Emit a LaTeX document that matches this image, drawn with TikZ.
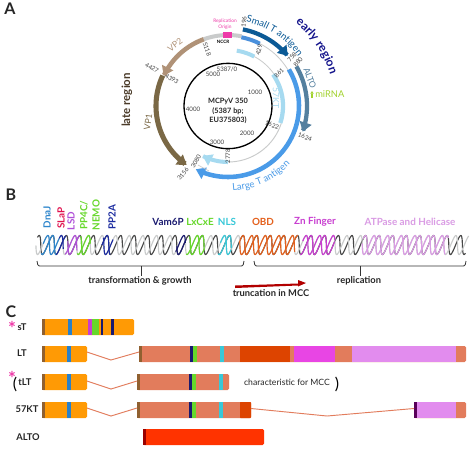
\documentclass[tikz,border=0pt]{standalone}
\usepackage{fontspec}
\setmainfont{Lato}
\usetikzlibrary{arrows.meta,decorations.text}
\definecolor{geneOrange}{HTML}{FF9A05}
\definecolor{geneSalmon}{HTML}{E27C5C}
\definecolor{geneRust}{HTML}{DD4400}
\definecolor{geneMagenta}{HTML}{E845E4}
\definecolor{genePink}{HTML}{E28CEE}
\definecolor{geneBlue}{HTML}{2A80C8}
\definecolor{geneNavy}{HTML}{1A1A70}
\definecolor{geneGreen}{HTML}{66D82A}
\definecolor{geneCyan}{HTML}{38C8D8}
\definecolor{geneRed}{HTML}{FF3300}
\definecolor{ringGray}{HTML}{C9CBCB}
\definecolor{smallT}{HTML}{0B5A96}
\definecolor{smallTb}{HTML}{4A90DC}
\definecolor{largeT}{HTML}{4A9BE8}
\definecolor{altoBlue}{HTML}{54809F}
\definecolor{kt}{HTML}{A6DAF0}
\definecolor{vpTwo}{HTML}{B09277}
\definecolor{vpOne}{HTML}{7A6845}
\definecolor{lateText}{HTML}{4A3A28}
\definecolor{earlyText}{HTML}{14148C}
\definecolor{mirna}{HTML}{A2D22E}
\definecolor{oriPink}{HTML}{EE3AA8}
\definecolor{dnaJ}{HTML}{2E86CC}
\definecolor{slap}{HTML}{E0124E}
\definecolor{lsd}{HTML}{B050D8}
\definecolor{ppTwo}{HTML}{1C2CA0}
\definecolor{obd}{HTML}{E4601C}
\definecolor{zn}{HTML}{C83ED0}
\definecolor{atp}{HTML}{DA9CE4}
\newcommand\ringarc[4]{\draw[#1] plot[domain=#2:#3,samples=50] ({228+#4*cos(\x)},{106+#4*sin(\x)});}
\newcommand\ringtext[5]{\path[decorate,decoration={text along path,text align=center,text={|#1|#5}}] plot[domain=#2:#3,samples=50] ({228+#4*cos(\x)},{106+#4*sin(\x)});}
\newcommand\strand[4]{\draw[#1,line width=0.85pt,line join=round] plot[domain=#2:#3,samples=#4] ({\x-1.8*sin(26.47*\x)},{245+9.5*sin(26.47*\x)});}
\newcommand\strandb[4]{\draw[#1,line width=0.85pt,line join=round] plot[domain=#2:#3,samples=#4] ({\x-1.8*sin(26.47*\x+130)},{245+9.5*sin(26.47*\x+130)});}
\newcommand\helixpart[3]{\strand{#1}{#2}{#3}{220}\strandb{#1}{#2}{#3}{220}}
\newcommand\genebar[5]{\fill[#5,rounded corners=1pt] (#1,#3) rectangle (#2,#4);}
\newcommand\barside[4]{\fill[#4] (#1,#2) rectangle ({#1+2.5},#3);}
\newcommand\ktfont{\fontsize{7.2pt}{8pt}\selectfont\color{smallT}}
\newcommand\ltfont{\fontsize{7.2pt}{8pt}\selectfont\color{largeT}}
\newcommand\erfont{\fontsize{9pt}{10pt}\selectfont\bfseries\color{earlyText}}
\tikzset{
  x=0.75pt,y=-0.75pt,
  ticklabel/.style={font=\fontsize{4.6pt}{5pt}\selectfont,text=black!75,inner sep=0pt},
  arrowed/.style={-{Triangle[length=7pt,width=9pt]}},
  domainlabel/.style={font=\fontsize{7.4pt}{8pt}\selectfont\bfseries,inner sep=0pt},
  grouplabel/.style={font=\fontsize{7pt}{8pt}\selectfont\bfseries,text=black!85,inner sep=0pt},
  rowlabel/.style={font=\fontsize{7pt}{8pt}\selectfont\bfseries,text=black!85,inner sep=0pt},
  panelletter/.style={font=\fontsize{12pt}{13pt}\selectfont\bfseries,text=black!85,inner sep=0pt},
  splice/.style={draw=geneSalmon,line width=0.7pt},
  bracket/.style={draw=black!80,line width=0.6pt,rounded corners=1pt},
  asterisk/.style={font=\fontsize{14pt}{15pt}\selectfont\bfseries,text=oriPink,inner sep=0pt},
}
\begin{document}
\begin{tikzpicture}
\useasboundingbox (0,0) rectangle (474,451);
\fill[white] (0,0) rectangle (474,451);

% Panel A: genome map
\node[panelletter] (panelA) at (10,9) {A};
\draw[black,line width=1pt] (228,106) circle [x radius=33pt,y radius=32pt];
\node[align=center,inner sep=0pt,font=\fontsize{5.5pt}{7pt}\selectfont\bfseries,text=black!85] (title) at (228,111) {MCPyV 350\\(5387 bp;\\EU375803)};

\ringarc{ringGray,line width=0.6pt}{-63}{-30}{70}
\ringarc{ringGray,line width=3pt}{-110}{-79}{71}
\ringarc{ringGray,line width=0.6pt}{-62}{-35}{56}
\ringarc{ringGray,line width=0.7pt}{18}{90}{56}
\ringarc{smallTb,line width=3pt}{-79}{-63}{70}
\ringarc{kt,line width=3pt}{-81}{-62}{56}
\ringarc{kt,line width=3.2pt}{-35}{18}{55}
\ringarc{kt,line width=3pt,arrowed}{90}{117}{56}
\ringarc{smallT,line width=3.2pt,arrowed}{-79}{-40}{78}
\ringarc{largeT,line width=3.4pt,arrowed}{-31}{117}{71}
\ringarc{altoBlue,line width=3.2pt,arrowed}{-30}{19}{79}
\ringarc{vpTwo,line width=3.4pt,arrowed}{-110}{-155}{71}
\ringarc{vpOne,line width=3.8pt,arrowed}{-155}{-235}{72}
\draw[ringGray,line width=0.5pt] (198,165) -- (209,171);

\fill[oriPink] (223,32) rectangle (232,38);
\node[font=\fontsize{3.6pt}{4.4pt}\selectfont,align=center,text=oriPink,inner sep=0pt] (ori) at (225,24) {Replication\\Origin};
\node[font=\fontsize{3.4pt}{4pt}\selectfont\bfseries,inner sep=0pt] (nccr) at (223,42) {NCCR};

\ringtext{\ktfont}{-85}{-28}{86}{Small T antigen}
\ringtext{\ltfont}{105}{25}{85}{Large T antigen}
\ringtext{\erfont}{-64}{-4}{107}{early region}
\node[rotate=90,font=\fontsize{8.6pt}{9pt}\selectfont\bfseries,text=lateText,inner sep=0pt] (late) at (127,100) {late region};
\node[rotate=38,font=\fontsize{6.5pt}{7pt}\selectfont,text=vpTwo,inner sep=0pt] (vp2) at (175,45) {VP2};
\node[rotate=82,font=\fontsize{6.5pt}{7pt}\selectfont,text=vpOne,inner sep=0pt] (vp1) at (148,122) {VP1};
\node[rotate=-70,font=\fontsize{6.5pt}{7pt}\selectfont,text=altoBlue,inner sep=0pt] (alto) at (310,78) {ALTO};
\node[rotate=-90,font=\fontsize{6.5pt}{7pt}\selectfont,text=kt,inner sep=0pt] (ktlabel) at (276,98) {57KT};
\node[font=\fontsize{7pt}{8pt}\selectfont,text=mirna,anchor=west,inner sep=0pt] (mir) at (315,94) {miRNA};
\coordinate (mirTail) at (312,98);
\coordinate (mirHead) at (312,91);
\draw[mirna,line width=0.8pt,-{Triangle[length=2pt,width=2.5pt]}] (mirTail) -- (mirHead);

\node[ticklabel] (t0) at (227,69) {5387/0};
\node[ticklabel] (t1) at (213,74) {5000};
\node[ticklabel] (t2) at (255,92) {1000};
\node[ticklabel] (t3) at (193,109) {4000};
\node[ticklabel] (t4) at (247,133) {2000};
\node[ticklabel] (t5) at (217,142) {3000};
\node[ticklabel,rotate=-30] (t6) at (152,68) {4427};
\node[ticklabel,rotate=-30] (t7) at (172,79) {4393};
\node[ticklabel,rotate=-70] (t8) at (207,49) {5118};
\node[ticklabel,rotate=85] (t9) at (244,22) {196};
\node[ticklabel,rotate=75] (t10) at (259,50) {429};
\node[ticklabel,rotate=45] (t11) at (279,73) {861};
\node[ticklabel,rotate=50] (t12) at (292,57) {758};
\node[ticklabel,rotate=50] (t13) at (298,62) {880};
\node[ticklabel,rotate=-20] (t14) at (305,137) {1624};
\node[ticklabel,rotate=-20] (t15) at (272,125) {1622};
\node[ticklabel,rotate=90] (t16) at (228,156) {2778};
\node[ticklabel,rotate=60] (t17) at (196,161) {3080};
\node[ticklabel,rotate=50] (t18) at (183,174) {3156};

% Panel B: large T domains on a helix
\node[panelletter] (panelB) at (11,195) {B};
\strand{black!72}{36}{467}{1600}
\strandb{ringGray}{36}{467}{1600}
\helixpart{dnaJ}{43}{58}
\helixpart{ppTwo}{58}{64}
\helixpart{lsd}{67}{78}
\helixpart{geneGreen}{79}{90}
\helixpart{ppTwo}{102}{112}
\helixpart{geneNavy}{177}{185}
\helixpart{geneGreen}{188}{205}
\helixpart{geneCyan}{220}{232}
\helixpart{obd}{239}{296}
\helixpart{zn}{302}{334}
\helixpart{atp}{362}{447}

\node[domainlabel,rotate=90,text=dnaJ] (dj) at (47,217) {DnaJ};
\node[domainlabel,rotate=90,text=slap] (sl) at (61,218) {SLaP};
\node[domainlabel,rotate=90,text=lsd] (ls) at (71,221) {LSD};
\node[domainlabel,rotate=90,text=geneGreen] (pp) at (84,215) {PP4C/};
\node[domainlabel,rotate=90,text=geneGreen] (ne) at (96,215) {NEMO};
\node[domainlabel,rotate=90,text=ppTwo] (p2) at (112,217) {PP2A};
\node[domainlabel,text=geneNavy] (va) at (168,222) {Vam6P};
\node[domainlabel,text=geneGreen] (lx) at (200,222) {LxCxE};
\node[domainlabel,text=geneCyan] (nl) at (227,222) {NLS};
\node[domainlabel,text=obd] (ob) at (263,222) {OBD};
\node[domainlabel,text=zn] (zf) at (315,222) {Zn Finger};
\node[domainlabel,text=atp] (at) at (410,222) {ATPase and Helicase};

\node[grouplabel] (growth) at (140,281) {transformation \& growth};
\node[grouplabel] (repl) at (359,281) {replication};
\node[grouplabel] (trunc) at (271,293.5) {truncation in MCC};
\draw[bracket] (37,261) -- (38,266) -- (243,266) -- (244,261);
\draw[bracket] (254,261) -- (255,266) -- (465,266) -- (466,261);
\coordinate (braceLeft) at (141,266);
\coordinate (braceRight) at (360,266);
\draw[bracket] (braceLeft) -- (growth.north -| braceLeft);
\draw[bracket] (braceRight) -- (repl.north -| braceRight);
\fill[red!70!black] (235,285.5) -- (298,283.5) -- (298,280) -- (306,283) -- (298,286.5) -- (298,285.5) -- (235,288) -- cycle;

% Panel C: transcripts
\node[panelletter] (panelC) at (11,312) {C};
\node[asterisk] (s1) at (12,328) {*};
\node[rowlabel] (rowsT) at (22,327) {sT};
\node[rowlabel] (rowLT) at (22,353) {LT};
\node[asterisk] (s2) at (12,378) {*};
\node[font=\fontsize{12pt}{13pt}\selectfont,inner sep=0pt] (openp) at (15,384) {(};
\node[rowlabel] (rowtLT) at (25,382) {tLT};
\node[rowlabel] (rowKT) at (27,409) {57KT};
\node[rowlabel] (rowALTO) at (28,437) {ALTO};
\node[font=\fontsize{6.5pt}{7pt}\selectfont,text=black!85,inner sep=0pt] (mcc) at (287,382) {characteristic for MCC};
\node[font=\fontsize{12pt}{13pt}\selectfont,inner sep=0pt] (closep) at (337,384) {)};

% sT
\genebar{42}{134}{319}{335}{geneOrange}
\barside{42}{319}{335}{brown!75!black}
\fill[geneBlue] (68,319) rectangle (72,335);
\fill[zn] (88,319) rectangle (92,335);
\fill[geneGreen] (92,319) rectangle (99,335);
\fill[geneNavy] (101,319) rectangle (103,335);
\fill[geneNavy] (111,319) rectangle (114,335);

% LT
\genebar{42}{87}{346}{362}{geneOrange}
\barside{42}{346}{362}{brown!75!black}
\fill[geneBlue] (67,346) rectangle (71,362);
\genebar{139}{466}{346}{362}{geneSalmon}
\barside{139}{346}{362}{brown!75!black}
\fill[geneNavy] (190,346) rectangle (193,362);
\fill[geneGreen] (193,346) rectangle (197,362);
\fill[geneCyan] (220,346) rectangle (224,362);
\fill[geneRust] (240,346) rectangle (290,362);
\fill[geneMagenta] (294,346) rectangle (335,362);
\fill[genePink] (352,346) rectangle (456,362);
\coordinate (ltA) at (87,352);
\coordinate (ltM) at (111,360);
\coordinate (ltB) at (139,352);
\draw[splice] (ltA) -- (ltM) -- (ltB);

% tLT
\genebar{42}{87}{374}{390}{geneOrange}
\barside{42}{374}{390}{brown!75!black}
\fill[geneBlue] (67,374) rectangle (71,390);
\genebar{137}{229}{374}{390}{geneSalmon}
\barside{137}{374}{390}{brown!75!black}
\fill[geneNavy] (189,374) rectangle (192,390);
\fill[geneGreen] (192,374) rectangle (196,390);
\fill[geneCyan] (219,374) rectangle (223,390);
\coordinate (tlA) at (87,381);
\coordinate (tlM) at (111,389);
\coordinate (tlB) at (137,381);
\draw[splice] (tlA) -- (tlM) -- (tlB);

% 57KT
\genebar{42}{87}{402}{418}{geneOrange}
\barside{42}{402}{418}{brown!75!black}
\fill[geneBlue] (67,402) rectangle (71,418);
\genebar{137}{251}{402}{418}{geneSalmon}
\barside{137}{402}{418}{brown!75!black}
\fill[geneNavy] (189,402) rectangle (192,418);
\fill[geneGreen] (192,402) rectangle (196,418);
\fill[geneCyan] (219,402) rectangle (223,418);
\fill[geneRust,rounded corners=0.5pt] (240,402) rectangle (251,418);
\genebar{414}{466}{402}{418}{geneSalmon}
\fill[genePink] (416,402) rectangle (456,418);
\fill[violet!70!black] (414,402) rectangle (416.5,418);
\coordinate (ktA) at (87,408);
\coordinate (ktM) at (111,416);
\coordinate (ktB) at (137,408);
\coordinate (ktC) at (251,408.5);
\coordinate (ktN) at (327,416);
\coordinate (ktD) at (414,408.5);
\draw[splice] (ktA) -- (ktM) -- (ktB);
\draw[splice] (ktC) -- (ktN) -- (ktD);

% ALTO
\genebar{143}{264}{429}{445}{geneRed}
\barside{143}{429}{445}{red!60!black}
\end{tikzpicture}
\end{document}
